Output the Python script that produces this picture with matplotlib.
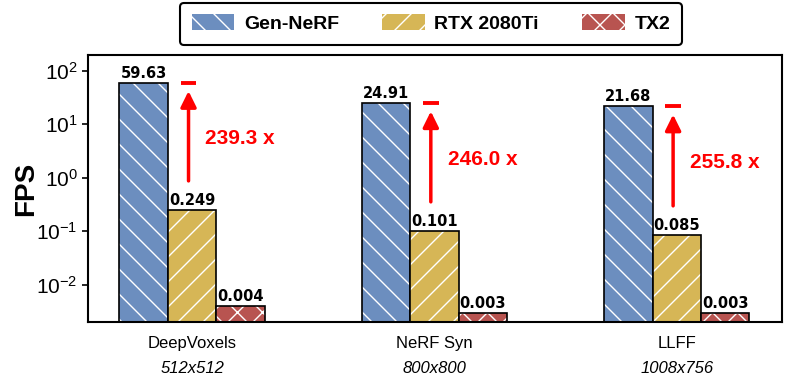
import numpy as np
import matplotlib
matplotlib.use("Agg")
import matplotlib.pyplot as plt
import matplotlib.hatch as mhatch
from matplotlib.path import Path
from matplotlib.patches import Patch

# denser hatching than the default (6 lines per inch)
Path.hatch = staticmethod(lambda hatchpattern, density=6:
                          mhatch.get_path(hatchpattern, 8) if hatchpattern is not None else None)

plt.rcParams['font.family'] = ['Liberation Sans', 'DejaVu Sans']
plt.rcParams['mathtext.fontset'] = 'custom'
plt.rcParams['mathtext.rm'] = 'Liberation Sans'
plt.rcParams['mathtext.it'] = 'Liberation Sans:italic'
plt.rcParams['hatch.linewidth'] = 1.0

datasets = ['DeepVoxels', 'NeRF Syn', 'LLFF']
resolutions = ['512x512', '800x800', '1008x756']
series = ['Gen-NeRF', 'RTX 2080Ti', 'TX2']
gen_nerf = [59.63, 24.91, 21.68]
rtx = [0.249, 0.101, 0.085]
tx2 = [0.004, 0.003, 0.003]
speedup = ['239.3 x', '246.0 x', '255.8 x']

colors = ['#6c8ebf', '#d6b656', '#b85450']
hatches = ['\\', '/', 'x']

fig = plt.figure(figsize=(7.89, 3.82), dpi=100)
ax = fig.add_axes([0.1115, 0.157, 0.8795, 0.699])

x = np.arange(len(datasets))
w = 0.2
handles = []
for i, vals in enumerate([gen_nerf, rtx, tx2]):
    pos = x + (i - 1) * w
    ax.bar(pos, vals, w, color=colors[i], hatch=hatches[i], edgecolor='white', linewidth=0)
    ax.bar(pos, vals, w, fill=False, edgecolor='black', linewidth=1.2)
    handles.append(Patch(facecolor=colors[i], hatch=hatches[i], edgecolor='white', linewidth=0, label=series[i]))
    for p, v in zip(pos, vals):
        ax.annotate(f'{v:g}' if v >= 1 else f'{v:.3f}', (p, v), xytext=(0, 1.5), textcoords='offset points',
                    ha='center', va='bottom', fontsize=10.5, fontweight='bold', family='DejaVu Sans')

# speedup arrows
for i in range(len(datasets)):
    ax_x = x[i] - 0.015
    ax.annotate('', xy=(ax_x, gen_nerf[i] * 0.7), xytext=(ax_x, rtx[i] * 3.5),
                arrowprops=dict(arrowstyle='-|>,head_length=0.95,head_width=0.47', color='red', lw=2.5,
                                shrinkA=0, shrinkB=0))
    ax.hlines(gen_nerf[i], ax_x - 0.032, ax_x + 0.032, color='red', lw=2.8)
    gm = np.sqrt(gen_nerf[i] * rtx[i]) * 1.4
    ax.text(x[i] + 0.055, gm, speedup[i], color='red', fontsize=15, fontweight='bold',
            ha='left', va='center')

ax.set_yscale('log')
ax.set_ylim(0.002, 197)
ax.set_xlim(-0.43, 2.434)
ax.minorticks_off()
ax.set_xticks(x)
ax.set_xticklabels(datasets, fontsize=12)
ax.tick_params(axis='x', length=0, pad=10)
ax.tick_params(axis='y', labelsize=15, length=4, width=1.2)
for xi, r in zip(x, resolutions):
    ax.text(xi, -0.145, r, transform=ax.get_xaxis_transform(), ha='center', va='top',
            fontsize=12, style='italic')
ax.set_ylabel('FPS', fontsize=20, fontweight='bold')
ax.yaxis.set_label_coords(-0.07, 0.5)
for s in ax.spines.values():
    s.set_linewidth(1.5)

leg = fig.legend(handles=handles, loc='upper center', bbox_to_anchor=(0.546, 0.993), ncol=3,
                 prop={'size': 14, 'weight': 'bold'}, frameon=True, fancybox=True,
                 edgecolor='black', framealpha=1, handlelength=2.2, handleheight=0.9,
                 handletextpad=0.5, columnspacing=2.2, borderpad=0.6, borderaxespad=0)
leg.get_frame().set_linewidth(1.5)

fig.savefig('out.png', dpi=100)
